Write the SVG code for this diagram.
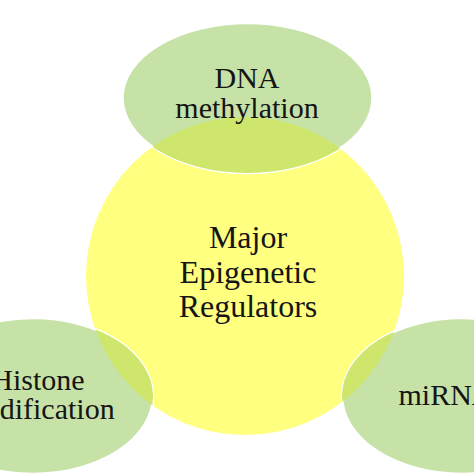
<svg xmlns="http://www.w3.org/2000/svg" width="474" height="474" viewBox="0 0 474 474">
  <defs>
    <style>
      .bg { fill: #ffffff; }
      .hub { fill: #ffff80; }
      .leaf { fill: #c6e2a6; stroke: #ffffff; stroke-width: 2.5; }
      .ov { fill: #cde66b; }
      .lbl { font-family: "Liberation Serif", "Times New Roman", serif; font-size: 30px; fill: #151515; text-anchor: middle; }
      .hubl { font-size: 32px; }
    </style>
    <clipPath id="clipTop"><ellipse cx="247.5" cy="98" rx="125" ry="75"/></clipPath>
    <clipPath id="clipLeft"><ellipse cx="33" cy="396" rx="120" ry="78"/></clipPath>
    <clipPath id="clipRight"><ellipse cx="462" cy="396" rx="120" ry="78"/></clipPath>
  </defs>
  <rect class="bg" x="0" y="0" width="474" height="474"/>
  <g id="connectors"></g>
  <g id="hub">
    <circle class="hub" cx="245" cy="276" r="159"/>
  </g>
  <g id="dna-methylation">
    <ellipse class="leaf" cx="247.5" cy="98" rx="125" ry="75"/>
    <circle class="ov" cx="245" cy="276" r="159" clip-path="url(#clipTop)"/>
    <text class="lbl" x="247" y="88">DNA</text>
    <text class="lbl" x="247" y="118">methylation</text>
  </g>
  <g id="histone-modification">
    <ellipse class="leaf" cx="33" cy="396" rx="120" ry="78"/>
    <circle class="ov" cx="245" cy="276" r="159" clip-path="url(#clipLeft)"/>
    <text class="lbl" x="38" y="390">Histone</text>
    <text class="lbl" x="38" y="419">modification</text>
  </g>
  <g id="mirna">
    <ellipse class="leaf" cx="462" cy="396" rx="120" ry="78"/>
    <circle class="ov" cx="245" cy="276" r="159" clip-path="url(#clipRight)"/>
    <text class="lbl" x="446" y="405">miRNA</text>
  </g>
  <g id="hub-label">
    <text class="lbl hubl" x="248" y="248">Major</text>
    <text class="lbl hubl" x="248" y="283">Epigenetic</text>
    <text class="lbl hubl" x="248" y="317">Regulators</text>
  </g>
</svg>
